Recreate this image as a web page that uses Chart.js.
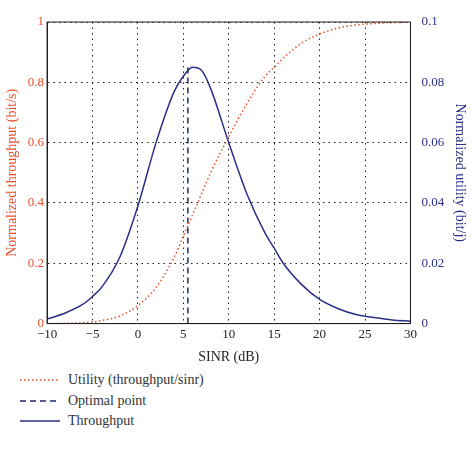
<!DOCTYPE html>
<html><head><meta charset="utf-8">
<script src="https://cdn.jsdelivr.net/npm/chart.js@4"></script>
<style>
body{margin:0;background:#fff;font-family:"Liberation Serif",serif;}
#wrap{width:474px;height:370px;}
#legend{margin-left:20px;font-size:14px;color:#333;}
.row{display:flex;align-items:center;height:20.5px;}
.row svg{margin-right:8px;}
</style></head><body>
<div id="wrap"><canvas id="c"></canvas></div>
<div id="legend">
<div class="row"><svg width="40" height="4"><line x1="0" y1="2" x2="40" y2="2" stroke="#e8502a" stroke-width="1.5" stroke-dasharray="1.5,2.5"/></svg>Utility (throughput/sinr)</div>
<div class="row"><svg width="40" height="4"><line x1="0" y1="2" x2="40" y2="2" stroke="#1f2a6e" stroke-width="1.5" stroke-dasharray="6,4"/></svg>Optimal point</div>
<div class="row"><svg width="40" height="4"><line x1="0" y1="2" x2="40" y2="2" stroke="#2b2f86" stroke-width="1.5"/></svg>Throughput</div>
</div>
<script>
// values
var sinr = [-10,-8,-6,-5,-4,-2,0,2,4,5,6,7,8,10,12,14,15,16,18,20,22,24,26,28,30];
var utility = [0,0.001,0.003,0.005,0.01,0.025,0.06,0.12,0.22,0.29,0.36,0.43,0.5,0.62,0.73,0.82,0.85,0.88,0.93,0.96,0.98,0.99,0.995,0.998,1];
var throughput = [0.015,0.035,0.065,0.09,0.12,0.22,0.39,0.6,0.77,0.82,0.85,0.84,0.78,0.6,0.43,0.3,0.25,0.2,0.13,0.08,0.05,0.03,0.02,0.012,0.008];
var optimalX = 5.5, optimalY = 0.85;

function pts(ys){ return sinr.map(function(x,i){ return {x:x,y:ys[i]}; }); }
function num(v){ return String(+v.toFixed(3)).replace('-', '\u2212'); }

var red = '#e8502a', navy = '#2b2f86';
Chart.defaults.font.family = '"Liberation Serif", serif';
Chart.defaults.font.size = 13;

new Chart(document.getElementById('c'), {
  type: 'line',
  data: { datasets: [
    { data: pts(utility), borderColor: red, borderWidth: 1.5, borderDash: [1.5,2.5], pointRadius: 0, cubicInterpolationMode: 'monotone' },
    { data: [{x:optimalX,y:0},{x:optimalX,y:optimalY}], borderColor: '#1f2a6e', borderWidth: 1.5, borderDash: [6,4], pointRadius: 0 },
    { data: pts(throughput), borderColor: navy, borderWidth: 1.5, pointRadius: 0, cubicInterpolationMode: 'monotone' }
  ]},
  options: {
    responsive: true, maintainAspectRatio: false, animation: false,
    layout: { padding: { top: 22, right: 2, left: 0 } },
    plugins: { legend: { display: false }, tooltip: { enabled: false } },
    scales: {
      x: { type: 'linear', min: -10, max: 30,
        ticks: { stepSize: 5, color: '#222', callback: num },
        grid: { color: '#222', drawTicks: false },
        border: { color: '#222', dash: [1.5,4] },
        title: { display: true, text: 'SINR (dB)', color: '#222', font: { size: 14 } } },
      y: { min: 0, max: 1,
        ticks: { stepSize: 0.2, color: red, callback: num },
        grid: { color: '#222', drawTicks: false },
        border: { color: '#222', dash: [1.5,4] },
        title: { display: true, text: 'Normalized throughput (bit/s)', color: red, font: { size: 14 } } },
      y2: { position: 'right', min: 0, max: 0.1,
        ticks: { stepSize: 0.02, color: navy, callback: num },
        grid: { display: false },
        border: { color: '#222' },
        title: { display: true, text: 'Normalized utility (bit/j)', color: navy, font: { size: 14 } } }
    }
  },
  plugins: [{ id: 'frame', afterDraw: function(ch){
    var a = ch.chartArea, c = ch.ctx;
    c.save(); c.strokeStyle = '#222'; c.lineWidth = 1; c.setLineDash([]);
    c.strokeRect(a.left, a.top, a.right - a.left, a.bottom - a.top); c.restore();
  }}]
});
</script>
</body></html>
